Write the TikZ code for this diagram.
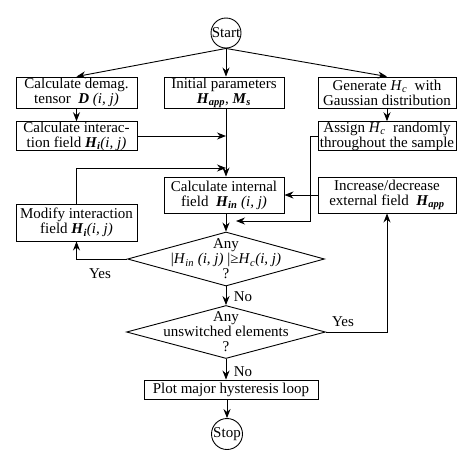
\documentclass[tikz,border=0pt]{standalone}
\usepackage{fontspec}
\setmainfont{Liberation Serif}
\usetikzlibrary{arrows.meta, positioning, shapes.geometric}

\newcommand{\bH}[1]{\textbf{\textit{H}}\textsubscript{\textbf{\textit{#1}}}}
\newcommand{\iH}[1]{\textit{H}\textsubscript{\textit{#1}}}
\newcommand{\pij}{\textit{(i, j)}}

\begin{document}
\begin{tikzpicture}[x=1pt, y=-1pt, line width=0.9pt, >={Stealth[length=9pt, width=7pt]},
    every node/.style={font=\fontsize{15}{15}\selectfont},
    box/.style={draw, align=center, inner xsep=1pt, inner ysep=0pt},
    dec/.style={draw, shape=diamond, inner sep=0pt},
    term/.style={draw, circle, inner sep=0pt, minimum size=30pt}]
    \useasboundingbox (0,0) rectangle (474,456);

    % start and first row
    \node[term] (start) at (226, 33) {Start};
    \node[box, minimum width=121pt, minimum height=31pt] (demag) at (76.5, 92.5) {Calculate demag.\\ tensor \ \textbf{\textit{D}} \pij};
    \node[box, minimum width=120pt, minimum height=31pt] (init) at (224, 92.5) {Initial parameters\\ \bH{app}, \textbf{\textit{M}}\textsubscript{\textbf{\textit{s}}}};
    \node[box, minimum width=138pt, minimum height=31pt] (gen) at (387, 92.5) {Generate \iH{c} \ with\\ Gaussian distribution};

    % second row
    \node[box, minimum width=121pt, minimum height=28pt] (interac) at (76.5, 136) {Calculate interac-\\tion field \bH{i}\pij};
    \node[box, minimum width=138pt, minimum height=28pt] (assign) at (387, 136) {Assign \iH{c} \ randomly\\ throughout the sample};

    % internal field
    \node[box, minimum width=120pt, minimum height=36pt] (calc) at (224, 195) {Calculate internal\\ field \ \bH{in} \pij};
    \node[box, minimum width=138pt, minimum height=36pt] (incr) at (387, 195) {Increase/decrease\\ external field \ \bH{app}};
    \node[box, minimum width=121pt, minimum height=37pt] (modify) at (76.5, 222.5) {Modify interaction\\ field \bH{i}\pij};

    % decisions
    \node[dec, minimum width=197pt, minimum height=54pt, label={[align=center, font=\fontsize{15}{15}\selectfont]center:Any\\ |\iH{in} \pij\ |≥\iH{c}\pij\\ ?}] (q1) at (226, 259) {};
    \node[dec, minimum width=199pt, minimum height=53pt, label={[align=center, font=\fontsize{15}{15}\selectfont]center:Any\\ unswitched elements\\ ?}] (q2) at (226, 332) {};

    % end
    \node[box, minimum width=174pt, minimum height=19pt] (plot) at (231, 389.5) {Plot major hysteresis loop};
    \node[term, minimum size=31pt] (stop) at (227, 434) {Stop};

    % branch labels
    \node (yes1) at (100, 274) {Yes};
    \node (no1) at (243, 297) {No};
    \node (yes2) at (343, 322) {Yes};
    \node (no2) at (243, 372) {No};

    % helper points
    \coordinate (m1) at (interac.east -| init.south);
    \coordinate (m2) at (226, 168);
    \coordinate (m3) at (236, 221);

    % connectors
    \draw[->] (start.south) -- (demag.north);
    \draw[->] (start.south) -- (start.south |- init.north);
    \draw[->] (start.south) -- (gen.north);
    \draw[->] (demag) -- (interac);
    \draw[->] (gen) -- (assign);
    \draw[->] (start.south |- init.south) -- (start.south |- calc.north);
    \draw[->] (interac.east) -- (m1 -| start);
    \draw[->] (modify.north) |- (m2);
    \draw[->] (incr) -- (calc);
    \draw[->] (assign.west) -- ++(-7,0) |- (m3);
    \draw[->] (start |- calc.south) -- (q1.north);
    \draw[->] (q1.west) -| (modify.south);
    \draw[->] (q1.south) -- (q2.north);
    \draw[->] (q2.east) -| (incr.south);
    \draw[->] (q2.south) -- (q2.south |- plot.north);
    \draw[->] (stop.north |- plot.south) -- (stop.north);
\end{tikzpicture}
\end{document}
